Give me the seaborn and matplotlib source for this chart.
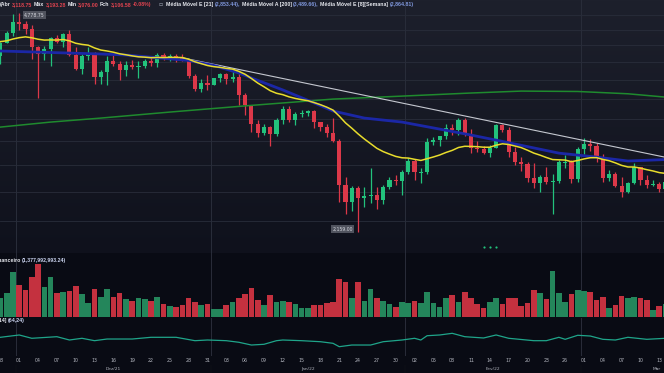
import numpy as np
import pandas as pd
import seaborn as sns
import matplotlib.pyplot as plt
from matplotlib.transforms import blended_transform_factory

W, H = 664, 373

# daily ETH candles, 28 Nov 2021 .. 14 Mar 2022
dates = pd.date_range('2021-11-28', '2022-03-14', freq='D')
opens = [4095, 4294, 4445, 4631, 4586, 4511, 4220, 4119, 4198, 4358, 4308, 4433, 4111, 3906, 4084, 4134,
         3785, 3862, 4018, 3965, 3885, 3960, 3925, 3940, 4022, 3980, 4110, 4050, 4095, 4066, 4038, 3797,
         3630, 3709, 3683, 3769, 3829, 3761, 3794, 3550, 3418, 3193, 3091, 3157, 3083, 3238, 3373, 3242,
         3307, 3330, 3350, 3213, 3164, 3095, 3000, 2560, 2405, 2535, 2440, 2457, 2466, 2424, 2546, 2603,
         2600, 2688, 2792, 2670, 2685, 2991, 3014, 3057, 3143, 3124, 3239, 3077, 2928, 2915, 2880, 2933,
         3178, 3122, 2889, 2786, 2761, 2629, 2575, 2639, 2587, 2597, 2770, 2778, 2620, 2920, 2973, 2950,
         2838, 2628, 2663, 2555, 2496, 2576, 2729, 2608, 2558, 2566, 2519]
highs = [4306, 4480, 4760, 4778, 4650, 4570, 4240, 4235, 4375, 4420, 4450, 4490, 4220, 4120, 4230, 4150,
         3880, 4090, 4100, 4010, 4010, 4030, 4010, 4050, 4080, 4140, 4140, 4125, 4125, 4126, 4050, 3830,
         3760, 3810, 3770, 3850, 3850, 3875, 3860, 3570, 3420, 3240, 3190, 3170, 3260, 3410, 3405, 3340,
         3360, 3365, 3360, 3220, 3200, 3270, 3030, 2634, 2550, 2550, 2540, 2720, 2540, 2560, 2640, 2650,
         2700, 2820, 2810, 2720, 3040, 3050, 3060, 3190, 3200, 3266, 3270, 3140, 3000, 2950, 2960, 3200,
         3200, 3160, 2940, 2830, 2780, 2770, 2650, 2736, 2660, 2800, 2850, 2800, 2935, 3040, 3020, 2980,
         2860, 2700, 2680, 2640, 2590, 2772, 2735, 2650, 2610, 2585, 2605]
lows = [3968, 4280, 4400, 4500, 4430, 4050, 3505, 4030, 3950, 4285, 4220, 4090, 3890, 3830, 4030, 3693,
        3700, 3680, 3950, 3750, 3800, 3900, 3770, 3920, 3950, 3930, 4030, 4020, 4000, 4020, 3770, 3604,
        3590, 3620, 3680, 3720, 3700, 3720, 3420, 3300, 3106, 3050, 3070, 2950, 3060, 3200, 3220, 3180,
        3280, 3290, 3150, 3110, 3050, 2990, 2410, 2302, 2330, 2159, 2366, 2400, 2350, 2390, 2520, 2560,
        2470, 2665, 2610, 2580, 2665, 2960, 2950, 3030, 3070, 3075, 3060, 2880, 2890, 2860, 2835, 2925,
        3100, 2830, 2750, 2690, 2590, 2534, 2500, 2570, 2302, 2580, 2725, 2580, 2590, 2860, 2900, 2780,
        2590, 2600, 2540, 2450, 2490, 2570, 2560, 2530, 2550, 2500, 2505]
closes = [4294, 4445, 4631, 4586, 4511, 4220, 4119, 4198, 4358, 4308, 4433, 4111, 3906, 4084, 4134, 3785,
          3862, 4018, 3965, 3885, 3960, 3925, 3940, 4022, 3980, 4110, 4050, 4095, 4066, 4038, 3797, 3630,
          3709, 3683, 3769, 3829, 3761, 3794, 3550, 3418, 3193, 3091, 3157, 3083, 3238, 3373, 3242, 3307,
          3330, 3350, 3213, 3164, 3095, 3000, 2560, 2405, 2535, 2440, 2457, 2466, 2424, 2546, 2603, 2600,
          2688, 2792, 2682, 2685, 2991, 3014, 3057, 3143, 3124, 3239, 3077, 2928, 2915, 2880, 2933, 3178,
          3122, 2889, 2786, 2761, 2629, 2575, 2639, 2587, 2597, 2778, 2778, 2620, 2920, 2973, 2950, 2838,
          2628, 2663, 2555, 2496, 2576, 2729, 2608, 2558, 2566, 2519, 2591]
# volume financeiro, in billions
volume_bn = [0.73, 0.93, 1.80, 1.27, 1.07, 1.57, 2.11, 1.17, 1.57, 0.96, 0.97, 1.04, 1.23, 0.91, 0.56, 1.09,
             0.77, 1.09, 0.77, 0.93, 0.69, 0.63, 0.73, 0.71, 0.64, 0.79, 0.49, 0.43, 0.40, 0.47, 0.73, 0.60,
             0.47, 0.51, 0.29, 0.29, 0.47, 0.57, 0.76, 0.89, 1.13, 0.67, 0.47, 0.85, 0.59, 0.63, 0.57, 0.49,
             0.33, 0.33, 0.47, 0.47, 0.56, 0.60, 1.49, 1.40, 0.73, 1.37, 0.64, 1.09, 0.76, 0.63, 0.51, 0.37,
             0.60, 0.56, 0.64, 0.53, 1.00, 0.56, 0.37, 0.73, 0.85, 0.60, 0.99, 0.73, 0.51, 0.36, 0.57, 0.73,
             0.51, 0.76, 0.76, 0.43, 0.53, 1.07, 0.93, 0.71, 1.83, 0.96, 0.60, 0.92, 1.05, 1.04, 0.97, 0.67,
             0.77, 0.36, 0.47, 0.83, 0.73, 0.77, 0.76, 0.67, 0.27, 0.43, 0.51]

# moving averages
sma200_idx = [0, 8, 16, 27, 40, 53, 64, 75, 83, 92, 100, 106]
sma200_val = [3159, 3217, 3264, 3336, 3418, 3497, 3535, 3575, 3600, 3595, 3565, 3522]
wema8_idx = [0, 16, 20, 30, 34, 38, 40, 45, 50, 53, 58, 64, 70, 75, 79, 89, 95, 100, 106]
wema8_val = [4164, 4119, 4104, 4023, 3951, 3845, 3776, 3615, 3449, 3349, 3264, 3217, 3136, 3069, 3013,
             2874, 2833, 2793, 2808]
ema21_start = 4310

# lower oscillator
ifr_idx = [0, 3, 5, 9, 11, 13, 15, 17, 21, 24, 28, 31, 33, 36, 38, 40, 42, 44, 45, 48, 51, 53, 54, 56,
           59, 61, 64, 66, 67, 68, 70, 72, 74, 77, 79, 81, 85, 87, 89, 90, 92, 94, 96, 98, 100, 103, 106]
ifr_val = [49.2, 55.3, 46.6, 50.8, 42.1, 46.6, 40.3, 44.7, 44.7, 49.2, 49.2, 40.3, 42.1, 40.3, 36.1, 28.9,
           30.8, 40.3, 42.1, 40.3, 37.6, 33.4, 24.5, 28.9, 28.9, 37.6, 42.1, 46.6, 42.1, 53.4, 55.3, 59.7,
           50.8, 47.4, 55.3, 46.6, 40.3, 40.3, 49.2, 43.9, 54.5, 52.6, 43.9, 42.1, 49.2, 43.9, 46.6]

trend_idx = [29, 106]
trend_val = [4062, 2831]
signal_idx = [77, 78, 79]
signal_val = [2045, 2045, 2045]

month_edges = [2.5, 33.5, 64.5, 92.5]
month_names = ['Dez/21', 'Jan/22', 'Fev/22', 'Mar']
month_pos = [18, 49, 78.5, 104.6]

# colours
UP, DOWN = '#22c27c', '#dc3849'
VUP, VDOWN = '#24865b', '#c4313f'
TXT = '#b2b5be'
FS = 3.75

n = len(closes)
idx = np.arange(n)
o = np.array(opens, float)
c = np.array(closes, float)
up = c >= o
ema = []
prev = ema21_start
for v in closes:
    prev = prev + 2 / 22 * (v - prev)
    ema.append(prev)

XL = (-0.064, 105.75)
fig = plt.figure(figsize=(W / 100, H / 100), dpi=100)

# background gradient
bg = fig.add_axes([0, 0, 1, 1], zorder=-10)
top, mid, low = np.array([29, 32, 44]), np.array([15, 17, 28]), np.array([9, 11, 20])
rows = []
for r in range(H):
    if r < 253:
        f = r / 253
        rows.append(top * (1 - f) + mid * f)
    else:
        rows.append(low)
grad = np.array(rows)[:, None, :] / 255
bg.imshow(grad, aspect='auto', extent=(0, 1, 0, 1))
bg.set_axis_off()

def px_axes(y0, y1):
    a = fig.add_axes([0, 1 - y1 / H, 1, (y1 - y0) / H])
    a.set_facecolor('none')
    return a

ax = px_axes(0, 253)
axv = px_axes(253, 316.7)
axi = px_axes(318, 356)

# main price panel
ax.set_yscale('log')
for p in [4750, 4500, 4250, 4000, 3750, 3500, 3250, 3000, 2750, 2500, 2250]:
    ax.axhline(p, color='#292d3a', lw=0.6, zorder=0)
for a in (ax, axv, axi):
    for e in month_edges:
        a.axvline(e, color='#292d3a', lw=0.7, zorder=0)

cols = np.where(up, UP, DOWN)
ax.vlines(idx, lows, highs, colors=cols, lw=0.9, zorder=3)
body_lo = np.minimum(o, c)
body_h = np.maximum(np.abs(c - o), body_lo * 0.004)
ax.bar(idx, body_h, bottom=body_lo, width=0.66, color=cols, zorder=4, linewidth=0)

sns.lineplot(x=sma200_idx, y=sma200_val, ax=ax, color='#1f8a2e', lw=1.1, zorder=5)
sns.lineplot(x=trend_idx, y=trend_val, ax=ax, color='#c5c8d0', lw=0.8, zorder=5)
sns.lineplot(x=wema8_idx, y=wema8_val, ax=ax, color='#1b27a6', lw=2.0, zorder=6)
sns.lineplot(x=idx, y=ema, ax=ax, color='#e8dc2c', lw=1.1, zorder=7)
ax.scatter(signal_idx, signal_val, s=2.5, color=UP, zorder=8, linewidths=0)

ax.text(3.8, 4744, '4,778.75', fontsize=3.3, color='#d5d7de', va='center', ha='left',
        bbox=dict(boxstyle='square,pad=0.25', fc='#50535e', ec='none'), zorder=9)
ax.text(54.5, 2183, '2,159.00', fontsize=3.3, color='#d5d7de', va='center', ha='center',
        bbox=dict(boxstyle='square,pad=0.25', fc='#50535e', ec='none'), zorder=9)
ax.set_ylim(2000, 5011)
ax.set_xlim(*XL)
ax.set_axis_off()

# volume panel
vol_df = pd.DataFrame({'i': idx, 'v': volume_bn, 'd': np.where(up, 'up', 'down')})
sns.barplot(data=vol_df, x='i', y='v', hue='d', palette={'up': VUP, 'down': VDOWN}, dodge=False,
            width=0.9, saturation=1, legend=False, linewidth=0, ax=axv)
axv.set_xlim(*XL)
axv.set_ylim(0, 2.55)
axv.set_axis_off()

# oscillator panel
sns.lineplot(x=ifr_idx, y=ifr_val, ax=axi, color='#1fa58a', lw=0.9)
axi.set_xlim(*XL)
axi.set_ylim(0, 100)
axi.set_axis_off()

# month band
axb = fig.add_axes([0, 0, 1, 8.5 / H])
axb.set_facecolor('#242731')
axb.set_xlim(*XL)
for e in month_edges:
    axb.axvline(e, color='#0c0e16', lw=1.3)
for m, p in zip(month_names, month_pos):
    axb.text(p, 0.45, m, fontsize=3.2, color=TXT, ha='center', va='center')
axb.set_axis_off()

# day ticks
tr = blended_transform_factory(axi.transData, fig.transFigure)
for i in range(0, n, 3):
    axi.text(i, 1 - 361 / H, dates[i].strftime('%d'), transform=tr, fontsize=3.4, color=TXT,
             ha='center', va='center', clip_on=False)

# header and panel legends
fig.canvas.draw()
rend = fig.canvas.get_renderer()

def write_row(parts, x0, y, size):
    x = x0
    for s, col, wt in parts:
        t = fig.text(x / W, 1 - y / H, s, color=col, fontsize=size, fontweight=wt, va='center',
                     ha='left', family='Liberation Sans')
        x = t.get_window_extent(rend).x1 + 1.4
    return x

R, WH, BL = '#e0434f', '#e6e8ee', '#7f97dc'
write_row([('(Abr', WH, 'bold'), ('3,118.75', R, 'bold'), ('Máx', WH, 'bold'), ('3,193.28', R, 'bold'),
           ('Mín', WH, 'bold'), ('3,076.00', R, 'bold'), ('Fch', WH, 'bold'), ('3,106.58', R, 'bold'),
           ('-0.08%)', R, 'bold')], 0, 4.5, FS)
fig.text(161 / W, 1 - 4.5 / H, '▫', color='#9aa0ad', fontsize=4.5, va='center', ha='center')
write_row([('Média Móvel E [21]', WH, 'bold'), ('(2,853.44),', BL, 'bold'),
           ('Média Móvel A [200]', WH, 'bold'), ('(3,489.66),', BL, 'bold'),
           ('Média Móvel E [8][Semana]', WH, 'bold'), ('(2,864.81)', BL, 'bold')], 166, 4.5, FS)

fig.text(20 / W, 1 - 260.3 / H, 'Volume Financeiro', color=WH, fontsize=FS, fontweight='bold',
         ha='right', va='center', family='Liberation Sans')
fig.text(21.7 / W, 1 - 260.3 / H, '(1,377,992,993.24)', color='#c9d2ee', fontsize=FS, fontweight='bold',
         ha='left', va='center', family='Liberation Sans')
fig.text(6 / W, 1 - 320.7 / H, 'IFR [14]', color=WH, fontsize=FS, fontweight='bold',
         ha='right', va='center', family='Liberation Sans')
fig.text(7.3 / W, 1 - 320.7 / H, '(64,24)', color='#c9d2ee', fontsize=FS, fontweight='bold',
         ha='left', va='center', family='Liberation Sans')

fig.savefig('out.png', dpi=100)
